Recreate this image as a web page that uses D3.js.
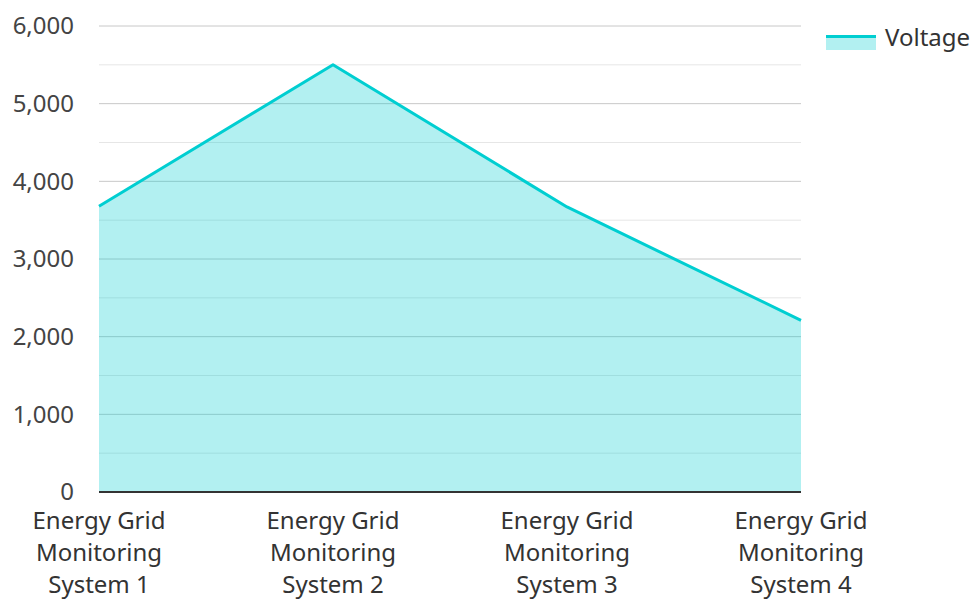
<!DOCTYPE html>
<html><head><meta charset="utf-8">
<script src="https://cdn.jsdelivr.net/npm/d3@7"></script>
<style>body{margin:0;background:#fff}text{font-family:"Noto Sans","Open Sans",sans-serif}</style>
</head><body><svg id="c" width="974" height="599"></svg>
<script>
const categories = ["Energy Grid Monitoring System 1","Energy Grid Monitoring System 2","Energy Grid Monitoring System 3","Energy Grid Monitoring System 4"];
const labelLines = [["Energy Grid","Monitoring","System 1"],["Energy Grid","Monitoring","System 2"],["Energy Grid","Monitoring","System 3"],["Energy Grid","Monitoring","System 4"]];
const voltage = [3680, 5500, 3670, 2210];
const yTicks = [0,1000,2000,3000,4000,5000,6000];
const seriesName = "Voltage";

const svg = d3.select("#c");
const m = {l:99, r:801, t:26, b:492};
const x = d3.scalePoint().domain(categories).range([m.l, m.r]);
const y = d3.scaleLinear().domain([0,6000]).range([m.b, m.t]);
const col = "#00CED1";

// grid
const minor = d3.range(500, 6000, 1000);
svg.append("g").selectAll("line").data(minor).join("line")
  .attr("x1", m.l).attr("x2", m.r).attr("y1", d=>y(d)).attr("y2", d=>y(d))
  .attr("stroke", "#e6e6e6").attr("stroke-width", 1);
svg.append("g").selectAll("line").data(yTicks.slice(1)).join("line")
  .attr("x1", m.l).attr("x2", m.r).attr("y1", d=>y(d)).attr("y2", d=>y(d))
  .attr("stroke", "#c8c8c8").attr("stroke-width", 1);

// area
const area = d3.area().x((d,i)=>x(categories[i])).y0(y(0)).y1(d=>y(d));
svg.append("path").datum(voltage).attr("d", area).attr("fill", col).attr("fill-opacity", 0.3);
const line = d3.line().x((d,i)=>x(categories[i])).y(d=>y(d));
svg.append("path").datum(voltage).attr("d", line).attr("fill","none").attr("stroke", col).attr("stroke-width", 3).attr("stroke-linejoin","round");

// y axis labels
const yAxis = d3.axisLeft(y).tickValues(yTicks).tickSize(0).tickPadding(0).tickFormat(d3.format(","));
const ya = svg.append("g").attr("transform", `translate(${m.l-25},0)`).call(yAxis);
ya.select(".domain").remove();
ya.selectAll("text").attr("font-size", 24).attr("fill", "#444").attr("font-family", '"Noto Sans","Open Sans",sans-serif');

// baseline
svg.append("line").attr("x1", m.l).attr("x2", m.r).attr("y1", y(0)).attr("y2", y(0)).attr("stroke", "#333").attr("stroke-width", 2);

// x labels
const xg = svg.append("g");
categories.forEach((c,i)=>{
  const t = xg.append("text").attr("x", x(c)).attr("text-anchor","middle").attr("font-size",24).attr("fill","#333");
  labelLines[i].forEach((ln,j)=>{
    t.append("tspan").attr("x", x(c)).attr("y", 529 + j*32).text(ln);
  });
});

// legend
const lg = svg.append("g");
lg.append("rect").attr("x", 826).attr("y", 35).attr("width", 50).attr("height", 15).attr("fill", col).attr("fill-opacity", 0.3);
lg.append("line").attr("x1", 826).attr("x2", 876).attr("y1", 36.5).attr("y2", 36.5).attr("stroke", col).attr("stroke-width", 3);
lg.append("text").attr("x", 885).attr("y", 46).attr("font-size", 24).attr("fill", "#333").text(seriesName);
</script></body></html>
